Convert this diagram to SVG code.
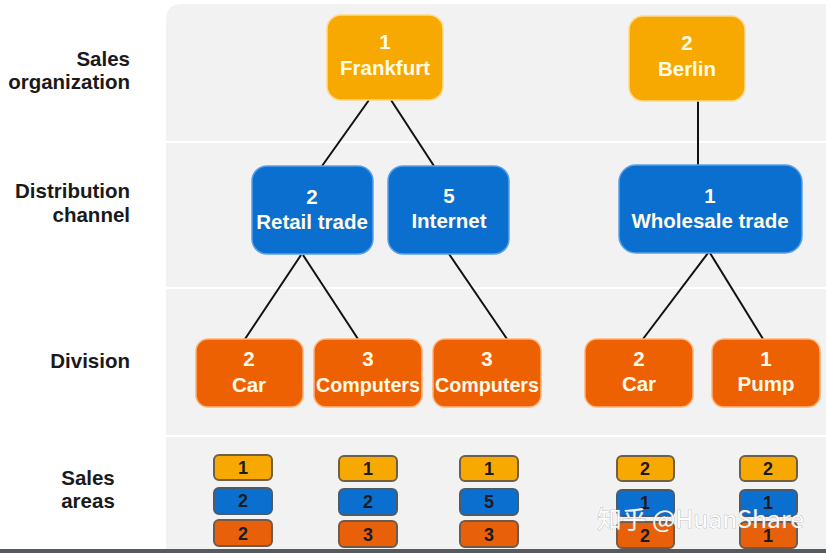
<svg xmlns="http://www.w3.org/2000/svg" width="826" height="553" viewBox="0 0 826 553">
<style>
.lbl{font-family:"Liberation Sans",Arial,sans-serif;font-weight:bold;font-size:20.5px;fill:#1a1a1a}
.nt{font-family:"Liberation Sans",Arial,sans-serif;font-weight:bold;font-size:20.5px;fill:#fffbe8;text-anchor:middle}
.st{font-family:"Liberation Sans",Arial,sans-serif;font-weight:bold;font-size:18px;fill:#1c1a24;text-anchor:middle}
.y{fill:#f7a801;stroke:#ffd98a;stroke-width:1.5}
.b{fill:#0b6fd0;stroke:#5aa0e6;stroke-width:1.5}
.o{fill:#ee6103;stroke:#ffb27a;stroke-width:1.5}
.sy{fill:#f7a801;stroke:#6f5f45;stroke-width:2}
.sb{fill:#0b6fd0;stroke:#4d5b68;stroke-width:2}
.so{fill:#e8600a;stroke:#6f5a4c;stroke-width:2}
.sep{stroke:#ffffff;stroke-width:2}
.c{stroke:#111;stroke-width:2;fill:none}
</style>
<rect x="0" y="0" width="826" height="553" fill="#ffffff"/>
<path d="M182 4 H826 V549 H166 V20 Q166 4 182 4 Z" fill="#f2f2f2"/>
<line class="sep" x1="166" y1="142" x2="826" y2="142"/>
<line class="sep" x1="166" y1="288" x2="826" y2="288"/>
<line class="sep" x1="166" y1="436" x2="826" y2="436"/>
<rect x="0" y="549" width="826" height="4" fill="#555a60"/>

<g id="row-labels">
<text class="lbl" x="130" y="66" text-anchor="end">Sales</text>
<text class="lbl" x="130" y="89" text-anchor="end">organization</text>
<text class="lbl" x="130" y="198" text-anchor="end">Distribution</text>
<text class="lbl" x="130" y="222" text-anchor="end">channel</text>
<text class="lbl" x="130" y="368" text-anchor="end">Division</text>
<text class="lbl" x="88" y="485" text-anchor="middle">Sales</text>
<text class="lbl" x="88" y="508" text-anchor="middle">areas</text>
</g>

<g id="connectors">
<line class="c" x1="369" y1="100" x2="322" y2="166"/>
<line class="c" x1="391" y1="100" x2="434" y2="166"/>
<line class="c" x1="698" y1="101" x2="698" y2="165"/>
<line class="c" x1="301" y1="255" x2="245" y2="339"/>
<line class="c" x1="303" y1="255" x2="358" y2="339"/>
<line class="c" x1="449" y1="254" x2="507" y2="339"/>
<line class="c" x1="708" y1="253" x2="643" y2="339"/>
<line class="c" x1="710" y1="253" x2="763" y2="339"/>
</g>

<g id="frankfurt"><rect class="y" x="327" y="15" width="116" height="85" rx="14"/><text class="nt" x="385" y="49">1</text><text class="nt" x="385" y="75">Frankfurt</text></g>
<g id="berlin"><rect class="y" x="629" y="16" width="116" height="85" rx="14"/><text class="nt" x="687" y="50">2</text><text class="nt" x="687" y="76">Berlin</text></g>

<g id="retail"><rect class="b" x="252" y="166" width="121" height="88" rx="15"/><text class="nt" x="312" y="204">2</text><text class="nt" x="312" y="229">Retail trade</text></g>
<g id="internet"><rect class="b" x="388" y="166" width="121" height="88" rx="15"/><text class="nt" x="449" y="203">5</text><text class="nt" x="449" y="228">Internet</text></g>
<g id="wholesale"><rect class="b" x="619" y="165" width="183" height="88" rx="17"/><text class="nt" x="710" y="203">1</text><text class="nt" x="710" y="228">Wholesale trade</text></g>

<g id="car1"><rect class="o" x="196" y="339" width="107" height="68" rx="12"/><text class="nt" x="249" y="366">2</text><text class="nt" x="249" y="392">Car</text></g>
<g id="computers1"><rect class="o" x="314" y="339" width="108" height="68" rx="12"/><text class="nt" x="368" y="366">3</text><text class="nt" x="368" y="392" textLength="104" lengthAdjust="spacingAndGlyphs">Computers</text></g>
<g id="computers2"><rect class="o" x="433" y="339" width="108" height="68" rx="12"/><text class="nt" x="487" y="366">3</text><text class="nt" x="487" y="392" textLength="104" lengthAdjust="spacingAndGlyphs">Computers</text></g>
<g id="car2"><rect class="o" x="585" y="339" width="108" height="68" rx="12"/><text class="nt" x="639" y="366">2</text><text class="nt" x="639" y="391">Car</text></g>
<g id="pump"><rect class="o" x="712" y="339" width="108" height="68" rx="12"/><text class="nt" x="766" y="366">1</text><text class="nt" x="766" y="391">Pump</text></g>

<g id="area1">
<rect class="sy" x="214" y="455" width="58" height="25" rx="5"/><text class="st" x="243" y="474">1</text>
<rect class="sb" x="214" y="488" width="58" height="26" rx="5"/><text class="st" x="243" y="507">2</text>
<rect class="so" x="214" y="520" width="58" height="26" rx="5"/><text class="st" x="243" y="540">2</text>
</g>
<g id="area2">
<rect class="sy" x="339" y="456" width="58" height="25" rx="5"/><text class="st" x="368" y="475">1</text>
<rect class="sb" x="339" y="489" width="58" height="26" rx="5"/><text class="st" x="368" y="508">2</text>
<rect class="so" x="339" y="521" width="58" height="26" rx="5"/><text class="st" x="368" y="541">3</text>
</g>
<g id="area3">
<rect class="sy" x="460" y="456" width="58" height="25" rx="5"/><text class="st" x="489" y="475">1</text>
<rect class="sb" x="460" y="489" width="58" height="26" rx="5"/><text class="st" x="489" y="508">5</text>
<rect class="so" x="460" y="521" width="58" height="26" rx="5"/><text class="st" x="489" y="541">3</text>
</g>
<g id="area4">
<rect class="sy" x="617" y="456" width="57" height="25" rx="5"/><text class="st" x="645" y="475">2</text>
<rect class="sb" x="617" y="490" width="57" height="26" rx="5"/><text class="st" x="645" y="509">1</text>
<rect class="so" x="617" y="522" width="57" height="26" rx="5"/><text class="st" x="645" y="542">2</text>
</g>
<g id="area5">
<rect class="sy" x="740" y="456" width="57" height="25" rx="5"/><text class="st" x="768" y="475">2</text>
<rect class="sb" x="740" y="490" width="57" height="26" rx="5"/><text class="st" x="768" y="509">1</text>
<rect class="so" x="740" y="522" width="57" height="26" rx="5"/><text class="st" x="768" y="542">1</text>
</g>

<text x="597" y="528" font-family="'Noto Sans CJK SC','Noto Sans',sans-serif" font-size="24" fill="#ffffff" stroke="#9a9a9a" stroke-width="0.6" paint-order="stroke" opacity="0.93" textLength="207" lengthAdjust="spacingAndGlyphs">知乎 @HuanShare</text>
</svg>
